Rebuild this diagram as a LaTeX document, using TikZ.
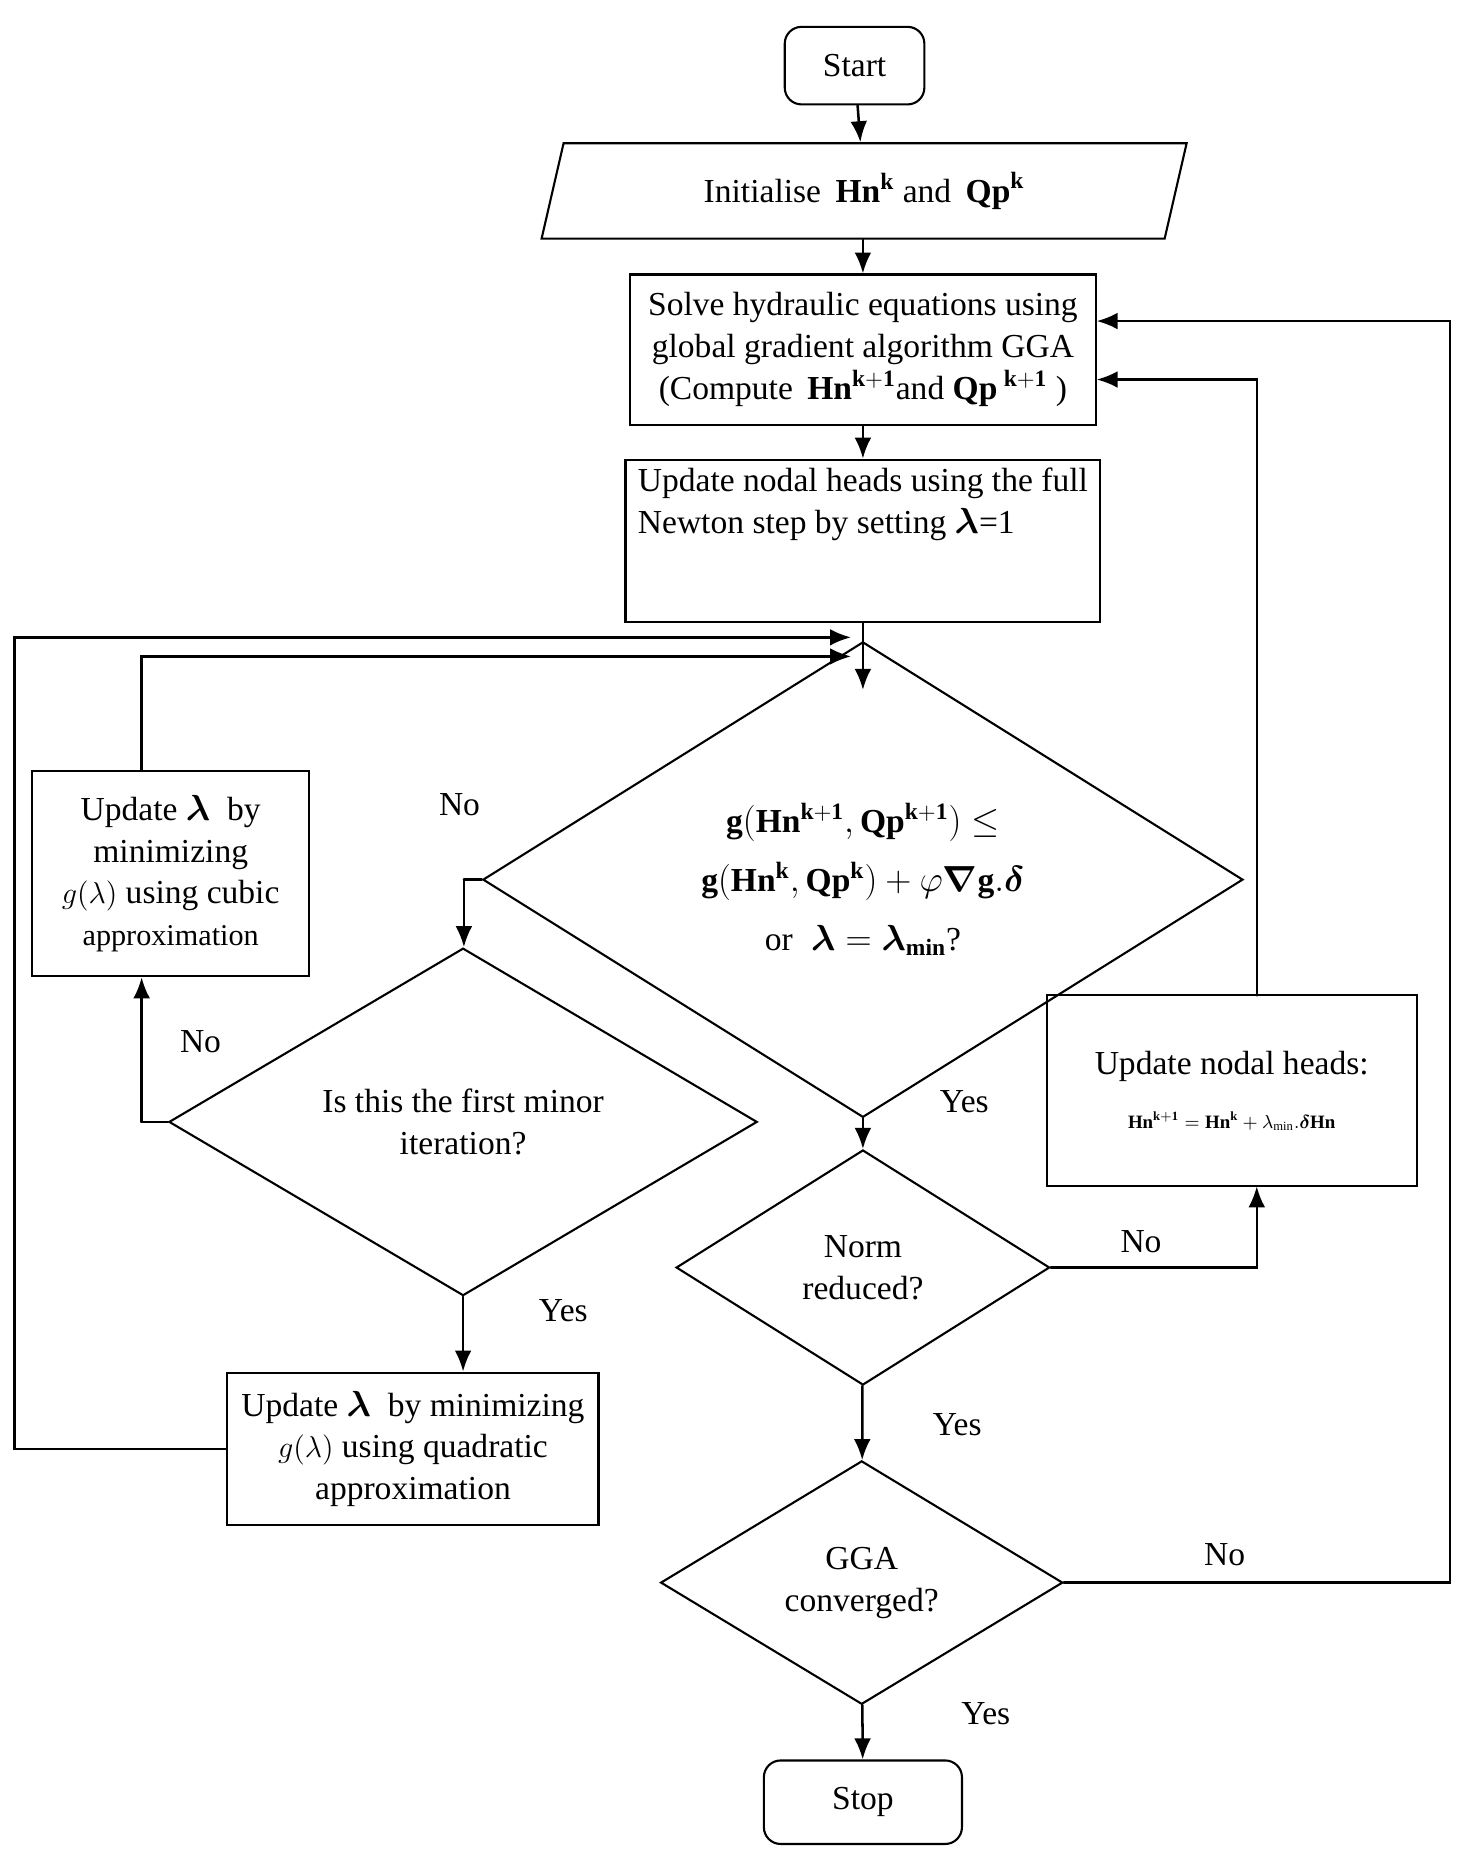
\documentclass[tikz,border=0pt]{standalone}
\usepackage{fontspec}
\setmainfont{Liberation Serif}
\usepackage{amsmath,bm}
\usetikzlibrary{shapes.geometric,arrows.meta}
\begin{document}
\begin{tikzpicture}[x=0.02cm, y=-0.02cm, line cap=round,
    every node/.style={font=\fontsize{16}{20}\selectfont},
    flow/.style={draw, line width=1pt, inner sep=4pt, align=center},
    term/.style={flow, rounded corners=8pt},
    box/.style={flow, rectangle},
    cond/.style={flow, diamond, inner sep=0pt},
    arr/.style={line width=1.2pt, -{Latex[length=10pt,width=8pt]}},
    ln/.style={line width=1.2pt}]

  % frame
  \useasboundingbox (0,0) rectangle (1225,1571);

  % nodes
  \node[term, minimum width=2.34cm, minimum height=1.3cm] (start) at (716,55) {Start};
  \node[flow, trapezium, trapezium left angle=77, trapezium right angle=103,
        minimum width=7.6cm, minimum height=1.6cm] (init) at (724,160)
        {Initialise $\,\mathbf{Hn}^{\mathbf{k}}$ and $\,\mathbf{Qp}^{\mathbf{k}}$};
  \node[box, minimum width=7.8cm, minimum height=2.52cm] (solve) at (723,293)
        {Solve hydraulic equations using\\ global gradient algorithm GGA\\
         (Compute $\,\mathbf{Hn}^{\mathbf{k+1}}$and $\mathbf{Qp}^{\;\mathbf{k+1}}$ )};
  \node[box, minimum width=7.96cm, minimum height=2.44cm, align=left] (full) at (723,453)
        {Update nodal heads using the full\\ Newton step by setting $\bm{\lambda}$=1\\[18pt]};
  \coordinate (join) at (723,578);
  \node[cond, minimum width=12.74cm, minimum height=6.3cm] (main) at (723,737)
        {$\mathbf{g(Hn^{k+1},Qp^{k+1})}\leq$\\[8pt]
         $\mathbf{g(Hn^{k},Qp^{k})}+\varphi\bm{\nabla}\mathbf{g.}\bm{\delta}$\\[8pt]
         or $\;\bm{\lambda}=\bm{\lambda}_{\mathbf{min}}$?};
  \node[cond, minimum width=9.86cm, minimum height=4.76cm] (first) at (388,940)
        {Is this the first minor\\ iteration?};
  \node[box, minimum width=4.64cm, minimum height=3.44cm] (cubic) at (143,732)
        {Update $\bm{\lambda}$ \ by\\ minimizing\\ {\Large$g(\lambda)$} using cubic\\ {\Large approximation}};
  \node[box, minimum width=6.22cm, minimum height=2.56cm] (quad) at (346,1214)
        {Update $\bm{\lambda}$ \ by minimizing\\ {\Large$g(\lambda)$} using quadratic\\ approximation};
  \node[cond, minimum width=6.26cm, minimum height=3.94cm] (norm) at (723,1062)
        {Norm\\ reduced?};
  \node[box, minimum width=6.2cm, minimum height=3.2cm] (heads) at (1032,914)
        {Update nodal heads:\\[6pt]
         {\small$\mathbf{Hn}^{\mathbf{k+1}}=\mathbf{Hn}^{\mathbf{k}}+\lambda_{\mathrm{min}}.\bm{\delta}\mathbf{Hn}$}};
  \node[cond, minimum width=6.74cm, minimum height=4.08cm] (gga) at (722,1326)
        {GGA\\ converged?};
  \node[term, minimum width=3.32cm, minimum height=1.4cm] (stop) at (723,1510) {Stop};

  % connectors
  \draw[arr] (start) -- (init);
  \draw[arr] (init.bottom side -| solve.north) -- (solve);
  \draw[arr] (solve) -- (full);
  \draw[arr] (full) -- (join);
  \draw[ln] (main.west) -- ++(-15,0) coordinate (m1);
  \draw[arr] (m1) -- (m1 |- first.north);
  \draw[ln] (first.west) -- ++(-22,0) coordinate (f1);
  \draw[arr] (f1) -- (f1 |- cubic.south);
  \draw[arr] (cubic.north -| f1) |- (713,550);
  \draw[arr] (first) -- (quad.north -| first);
  \draw[arr] (quad.west) -| (12,534) -- (713,534);
  \draw[arr] (main) -- (norm);
  \draw[arr] (norm.east) -| (1053,994);
  \draw[arr] (1053,834) |- (solve.east |- 0,318);
  \draw[arr] (norm) -- (gga);
  \draw[arr] (gga.east) -| (1215,269) -- (solve.east |- 0,269);
  \draw[arr] (gga) -- (stop);

  % labels
  \node at (385,674) {No};
  \node at (168,873) {No};
  \node at (472,1098) {Yes};
  \node at (808,923) {Yes};
  \node at (956,1040) {No};
  \node at (802,1194) {Yes};
  \node at (1026,1303) {No};
  \node at (826,1436) {Yes};
\end{tikzpicture}
\end{document}
